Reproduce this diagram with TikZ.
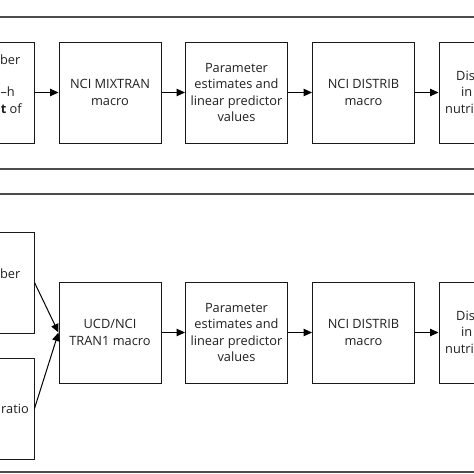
\documentclass[tikz,border=0pt]{standalone}
\usepackage{fontspec}
\setmainfont{Open Sans}
\usetikzlibrary{arrows.meta}
\tikzset{
  box/.style={draw=black!90, line width=1pt, minimum width=102pt, minimum height=101pt, inner sep=0pt, align=center, font=\fontsize{12.8}{16.3}\selectfont, text=black!88},
  frag/.style={inner sep=0pt, font=\fontsize{12.8}{16.3}\selectfont, text=black!88},
  conn/.style={line width=1pt, draw=black, -{Triangle[length=8.5pt,width=7.5pt]}},
  rule/.style={line width=2pt, draw=black!70}
}
\begin{document}
\begin{tikzpicture}[x=1pt,y=-1pt]
\useasboundingbox (0,0) rectangle (474,474);
\clip (0,0) rectangle (474,474);
% separators
\draw[rule] (-5,16.5) -- (480,16.5);
\draw[rule] (-5,168.5) -- (480,168.5);
\draw[rule] (-5,193.7) -- (480,193.7);
\draw[rule] (-5,472) -- (480,472);
% row 1
\node[box] (a1) at (-17,92.5) {};
\node[box] (b1) at (110,92.5) {NCI MIXTRAN\\macro};
\node[box] (c1) at (236.5,92.5) {Parameter\\estimates and\\linear predictor\\values};
\node[box] (d1) at (363.5,92.5) {NCI DISTRIB\\macro};
\node[box] (e1) at (490,92.5) {};
\node[frag, anchor=base east] (a1t1) at (20.5,64) {ber};
\node[frag, anchor=base east] (a1t2) at (15,96.5) {–h};
\node[frag, anchor=base east] (a1t3) at (22,113) {\textbf{t} of};
\node[frag, anchor=base west] (e1t1) at (456,80) {Dis};
\node[frag, anchor=base west] (e1t2) at (461,96.5) {in};
\node[frag, anchor=base west] (e1t3) at (445,113) {nutri};
\draw[conn] (a1.east) -- (b1.west);
\draw[conn] (b1.east) -- (c1.west);
\draw[conn] (c1.east) -- (d1.west);
\draw[conn] (d1.east) -- (e1.west);
% row 2
\node[box] (a2) at (-17,282.5) {};
\node[box] (f2) at (-17,408.5) {};
\node[box] (b2) at (110,332.5) {UCD/NCI\\TRAN1 macro};
\node[box] (c2) at (236.5,332.5) {Parameter\\estimates and\\linear predictor\\values};
\node[box] (d2) at (363.5,332.5) {NCI DISTRIB\\macro};
\node[box] (e2) at (490,332.5) {};
\node[frag, anchor=base east] (a2t1) at (20.5,278) {ber};
\node[frag, anchor=base east] (f2t1) at (29,413) {ratio};
\node[frag, anchor=base west] (e2t1) at (456,320) {Dis};
\node[frag, anchor=base west] (e2t2) at (461,336.5) {in};
\node[frag, anchor=base west] (e2t3) at (445,353) {nutri};
\draw[conn] (a2.east) -- (b2.west);
\draw[conn] (f2.east) -- (b2.west);
\draw[conn] (b2.east) -- (c2.west);
\draw[conn] (c2.east) -- (d2.west);
\draw[conn] (d2.east) -- (e2.west);
\end{tikzpicture}
\end{document}
